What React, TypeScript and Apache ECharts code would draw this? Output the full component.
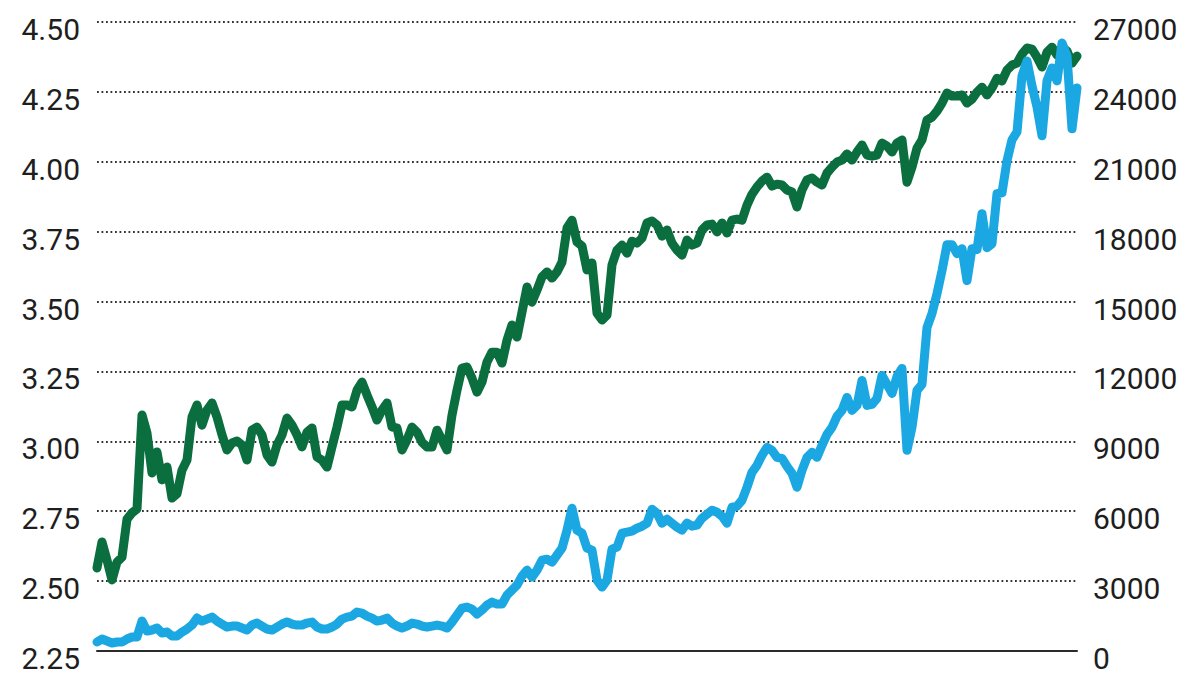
import React, { useEffect, useRef } from "react";
import * as echarts from "echarts";

// Left axis series (green)
const greenValues: number[] = [
  2.547, 2.640, 2.575, 2.504, 2.568, 2.586, 2.722, 2.744, 2.758, 3.094,
  3.030, 2.887, 2.962, 2.862, 2.908, 2.797, 2.812, 2.897, 2.933, 3.087,
  3.130, 3.058, 3.112, 3.137, 3.087, 3.023, 2.969, 2.994, 3.001, 2.987,
  2.933, 3.040, 3.051, 3.023, 2.951, 2.926, 2.987, 3.023, 3.083, 3.058,
  3.023, 2.980, 3.033, 3.048, 2.944, 2.933, 2.908, 2.980, 3.051, 3.130,
  3.130, 3.123, 3.183, 3.212, 3.166, 3.123, 3.076, 3.112, 3.137, 3.051,
  3.048, 2.969, 3.005, 3.051, 3.033, 2.997, 2.980, 2.980, 3.040, 3.005,
  2.969, 3.094, 3.183, 3.262, 3.266, 3.226, 3.176, 3.212, 3.284, 3.319,
  3.319, 3.280, 3.362, 3.416, 3.373, 3.462, 3.552, 3.498, 3.541, 3.588,
  3.606, 3.584, 3.606, 3.641, 3.763, 3.791, 3.713, 3.699, 3.613, 3.638,
  3.459, 3.434, 3.452, 3.631, 3.684, 3.702, 3.673, 3.716, 3.709, 3.727,
  3.781, 3.788, 3.774, 3.734, 3.756, 3.709, 3.684, 3.666, 3.720, 3.702,
  3.709, 3.756, 3.774, 3.777, 3.749, 3.781, 3.745, 3.791, 3.795, 3.791,
  3.845, 3.884, 3.910, 3.931, 3.945, 3.913, 3.920, 3.917, 3.899, 3.892,
  3.838, 3.899, 3.935, 3.942, 3.927, 3.917, 3.960, 3.981, 3.999, 4.006,
  4.028, 4.006, 4.035, 4.060, 4.024, 4.020, 4.024, 4.067, 4.056, 4.035,
  4.067, 4.078, 3.927, 3.981, 4.049, 4.078, 4.149, 4.160, 4.181, 4.210,
  4.246, 4.235, 4.235, 4.239, 4.210, 4.224, 4.249, 4.267, 4.239, 4.264,
  4.299, 4.289, 4.328, 4.346, 4.353, 4.385, 4.407, 4.403, 4.374, 4.339,
  4.392, 4.410, 4.382, 4.410, 4.396, 4.353, 4.378,
];

// Right axis series (blue)
const blueValues: number[] = [
  386, 514, 429, 343, 386, 386, 514, 600, 600, 1286,
  857, 900, 986, 771, 814, 643, 643, 814, 943, 1114,
  1414, 1286, 1371, 1457, 1286, 1157, 1029, 1071, 1071, 986,
  900, 1114, 1200, 1071, 943, 900, 1029, 1157, 1243, 1157,
  1114, 1114, 1200, 1243, 1029, 943, 943, 1029, 1157, 1371,
  1457, 1500, 1671, 1629, 1500, 1414, 1286, 1329, 1414, 1200,
  1071, 986, 1071, 1200, 1157, 1071, 1029, 1071, 1114, 1071,
  986, 1243, 1543, 1843, 1886, 1800, 1586, 1757, 1971, 2100,
  2014, 2014, 2400, 2614, 2829, 3214, 3472, 3172, 3472, 3900,
  3943, 3814, 4114, 4414, 5186, 6129, 5186, 5057, 4414, 4329,
  3043, 2743, 3043, 4371, 4457, 5057, 5100, 5143, 5271, 5357,
  5486, 6086, 5914, 5486, 5657, 5486, 5314, 5186, 5486, 5357,
  5400, 5700, 5871, 6043, 5957, 5786, 5486, 6171, 6214, 6471,
  7029, 7671, 7971, 8400, 8743, 8614, 8314, 8271, 7929, 7629,
  7029, 7757, 8314, 8529, 8314, 8829, 9300, 9600, 10071, 10329,
  10886, 10329, 10543, 11614, 10543, 10586, 10843, 11829, 11443, 11057,
  11786, 12129, 8614, 9600, 11186, 11443, 13886, 14486, 15343, 16329,
  17443, 17443, 17057, 17271, 15900, 17271, 17229, 18771, 17314, 17486,
  19629, 19671, 21043, 21943, 22286, 24686, 25329, 24257, 23357, 22114,
  24471, 25029, 24471, 26100, 25543, 22414, 24171,
];

// Axis settings
const leftMin = 2.25;
const leftMax = 4.5;
const leftStep = 0.25;
const rightMin = 0;
const rightMax = 27000;
const rightStep = 3000;

const periods: number[] = greenValues.map((_, i) => i);

const GREEN = "#0a6e3e";
const BLUE = "#1aa7e2";
const TEXT = "#1e1e1e";
const FONT = "Roboto, 'Liberation Sans', sans-serif";

export default function App() {
  const ref = useRef<HTMLDivElement>(null);

  useEffect(() => {
    if (!ref.current) return;
    const chart = echarts.init(ref.current, undefined, { renderer: "svg" });
    const labelStyle = {
      color: TEXT,
      fontSize: 30,
      fontFamily: FONT,
      verticalAlign: "top" as const,
      lineHeight: 15,
      showMinLabel: true,
      showMaxLabel: true,
    };
    chart.setOption({
      animation: false,
      backgroundColor: "#ffffff",
      grid: { left: 97, right: 123, top: 22, bottom: 24, containLabel: false },
      xAxis: {
        type: "category",
        data: periods,
        boundaryGap: false,
        axisLine: { show: true, lineStyle: { color: "#2b2b2b", width: 2 } },
        axisTick: { show: false },
        axisLabel: { show: false },
        splitLine: { show: false },
      },
      yAxis: [
        {
          type: "value",
          position: "left",
          min: leftMin,
          max: leftMax,
          interval: leftStep,
          axisLine: { show: false },
          axisTick: { show: false },
          axisLabel: {
            ...labelStyle,
            margin: 17,
            formatter: (v: number) => v.toFixed(2),
          },
          splitLine: {
            show: true,
            lineStyle: { color: "#333333", width: 1.8, type: [1.8, 2.7] },
          },
        },
        {
          type: "value",
          position: "right",
          min: rightMin,
          max: rightMax,
          interval: rightStep,
          axisLine: { show: false },
          axisTick: { show: false },
          axisLabel: {
            ...labelStyle,
            margin: 16,
            formatter: (v: number) => String(v),
          },
          splitLine: { show: false },
        },
      ],
      series: [
        {
          type: "line",
          yAxisIndex: 0,
          data: greenValues,
          showSymbol: false,
          symbol: "none",
          lineStyle: { color: GREEN, width: 9, cap: "round", join: "round" },
          z: 3,
        },
        {
          type: "line",
          yAxisIndex: 1,
          data: blueValues,
          showSymbol: false,
          symbol: "none",
          lineStyle: { color: BLUE, width: 9, cap: "round", join: "round" },
          z: 4,
        },
      ],
    });
    return () => chart.dispose();
  }, []);

  return (
    <div
      ref={ref}
      style={{ position: "fixed", left: 0, top: 0, width: 1200, height: 675, background: "#fff" }}
    />
  );
}
